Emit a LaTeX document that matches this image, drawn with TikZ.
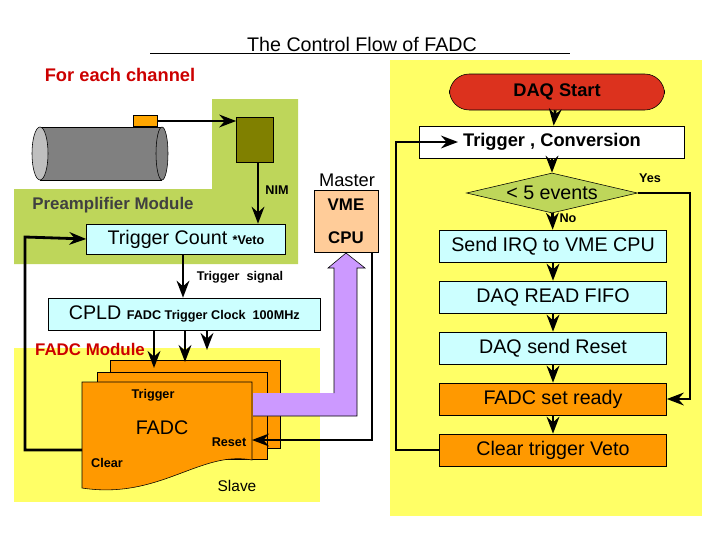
\documentclass[tikz,border=0pt]{standalone}
\usepackage{fontspec}
\setmainfont{Liberation Sans}
\usetikzlibrary{arrows.meta, positioning, calc, shapes.geometric}
\definecolor{pgreen}{RGB}{190,214,90}
\definecolor{pyellow}{RGB}{255,255,102}
\definecolor{pcyan}{RGB}{204,255,255}
\definecolor{porange}{RGB}{255,153,0}
\definecolor{ppeach}{RGB}{255,204,153}
\definecolor{ppurple}{RGB}{204,153,255}
\definecolor{polive}{RGB}{128,128,0}
\definecolor{pred}{RGB}{220,50,30}
\begin{document}
\begin{tikzpicture}[x=0.025cm, y=-0.025cm, >=Stealth]
    \tikzstyle{box} = [rectangle, draw, inner sep=0pt, minimum width=227*0.025cm, minimum height=32*0.025cm, font=\fontsize{14}{16}\selectfont]
    \tikzstyle{small} = [font=\bfseries\fontsize{9}{10}\selectfont]
    \tikzstyle{link} = [->, line width=2pt]

    \useasboundingbox (0,0) rectangle (720,540);

    % Backgrounds
    \fill[pyellow] (390,60) rectangle (702,516);
    \fill[pgreen] (212,99) -- (298,99) -- (298,264) -- (14,264) -- (14,189) -- (212,189) -- cycle;
    \fill[pyellow] (14,348) rectangle (320,502);

    % Title
    \node (title) at (362,44) {\fontsize{14}{16}\selectfont The Control Flow of FADC};
    \draw (150,53) -- (570,53);
    \node[text=red!80!black, font=\bfseries\fontsize{13}{15}\selectfont] (each) at (120,75) {For each channel};

    % Flow chart
    \node[box, fill=pred, rounded corners=14pt, minimum width=215*0.025cm, minimum height=36*0.025cm, font=\bfseries\fontsize{13}{15}\selectfont] (start) at (557,92) {DAQ Start};
    \node[box, fill=white, minimum width=265*0.025cm, font=\bfseries\fontsize{13}{15}\selectfont] (conv) at (552,142) {Trigger , Conversion};
    \node[diamond, draw, fill=pgreen, aspect=4.3, inner sep=0pt, minimum width=171*0.025cm, minimum height=40*0.025cm, font=\fontsize{14}{16}\selectfont] (events) at (552,193) {< 5 events};
    \node[box, fill=pcyan] (irq) at (553,246) {Send IRQ to VME CPU};
    \node[box, fill=pcyan] (fifo) at (553,297) {DAQ READ FIFO};
    \node[box, fill=pcyan] (reset) at (553,348) {DAQ send Reset};
    \node[box, fill=porange] (ready) at (553,399) {FADC set ready};
    \node[box, fill=porange] (clear) at (553,450) {Clear trigger Veto};
    \node[small] (yes) at (650,178) {Yes};
    \node[small] (no) at (568,218) {No};

    \draw[link] (start) -- (conv);
    \draw[link] (conv) -- (events);
    \draw[link] (events) -- (irq);
    \draw[link] (irq) -- (fifo);
    \draw[link] (fifo) -- (reset);
    \draw[link] (reset) -- (ready);
    \draw[link] (ready) -- (clear);
    \draw[link] (events.east) -| (690,399) -- (ready.east);
    \coordinate (loopend) at (458,142);
    \draw[link] (clear.west) -| (396,142) -- (loopend);

    % Detector and preamplifier
    \fill[gray] (40,127) rectangle (162,180);
    \draw (40,127) -- (162,127) (40,180) -- (162,180);
    \fill[gray] (162,153.5) ellipse (6 and 26.5);
    \draw (162,153.5) ellipse (6 and 26.5);
    \draw[fill=lightgray] (40,153.5) ellipse (8 and 26.5);
    \node[draw, fill=orange!70!yellow, minimum width=24*0.025cm, minimum height=11*0.025cm, inner sep=0pt] (pmt) at (145,121) {};
    \node[draw, fill=polive, minimum width=37*0.025cm, minimum height=45*0.025cm, inner sep=0pt] (amp) at (255,140) {};
    \draw[link] (pmt.east) -- (amp.west |- pmt.east);
    \node[font=\bfseries\fontsize{12}{14}\selectfont, text=black!75] (pre) at (113,205) {Preamplifier Module};
    \node[box, fill=pcyan, minimum width=199*0.025cm, minimum height=30*0.025cm] (count) at (186,239) {Trigger Count {\small\bfseries *Veto}};
    \draw[link] (amp.south -| 258,0) -- (count.north -| 258,0);
    \node[small] (nim) at (277,190) {NIM};

    % Master VME CPU
    \node[font=\fontsize{13}{15}\selectfont] (master) at (347,180) {Master};
    \node[draw, fill=ppeach, minimum width=64*0.025cm, minimum height=62*0.025cm, inner sep=0pt] (vme) at (346,221) {};
    \node[font=\bfseries\fontsize{12}{14}\selectfont] (vmet) at (346,205) {VME};
    \node[font=\bfseries\fontsize{12}{14}\selectfont] (cput) at (346,238) {CPU};

    % CPLD
    \node[small] (tsig) at (240,277) {Trigger\ \ signal};
    \node[box, fill=pcyan, minimum width=272*0.025cm, minimum height=32*0.025cm, anchor=west] (cpld) at (48,314) {CPLD {\small\bfseries FADC Trigger Clock\ \ 100MHz}};
    \draw[link] (count.south -| 183,0) -- (cpld.north -| 183,0);
    \node[font=\bfseries\fontsize{12}{14}\selectfont, text=red!80!black] (fmod) at (90,349) {FADC Module};

    % FADC cards
    \draw[fill=porange] (110,360) rectangle (280,448);
    \draw[fill=porange] (97,372) rectangle (267,459);
    \draw[fill=porange] (82,382) -- (252,382) -- (252,460) .. controls (200,450) and (160,500) .. (82,488) -- cycle;
    \coordinate (card1) at (154,368);
    \coordinate (card2) at (185,362);
    \coordinate (card3) at (207,350);
    \draw[link] (cpld.south -| card1) -- (card1);
    \draw[link] (cpld.south -| card2) -- (card2);
    \draw[link] (cpld.south -| card3) -- (card3);
    \node[small] (trig) at (153,395) {Trigger};
    \node[font=\fontsize{14}{16}\selectfont] (fadc) at (162,428) {FADC};
    \node[small] (rst) at (229,442) {Reset};
    \node[small] (clr) at (107,463) {Clear};
    \node[font=\fontsize{11}{13}\selectfont] (slave) at (237,486) {Slave};

    % Data bus to VME
    \fill[ppurple] (253,393) -- (334,393) -- (334,268) -- (328,268) -- (346,253) -- (365,268) -- (357,268) -- (357,416) -- (253,416) -- cycle;
    \draw (253,416) -- (357,416) -- (357,268) -- (365,268) -- (346,253) -- (328,268) -- (334,268) -- (334,393);

    % Reset and clear lines
    \coordinate (rstend) at (252,440);
    \draw[link] (372,252) |- (rstend);
    \coordinate (clrstart) at (82,450);
    \draw[link] (clrstart) -| (25,237) -- (count.west);
\end{tikzpicture}
\end{document}
